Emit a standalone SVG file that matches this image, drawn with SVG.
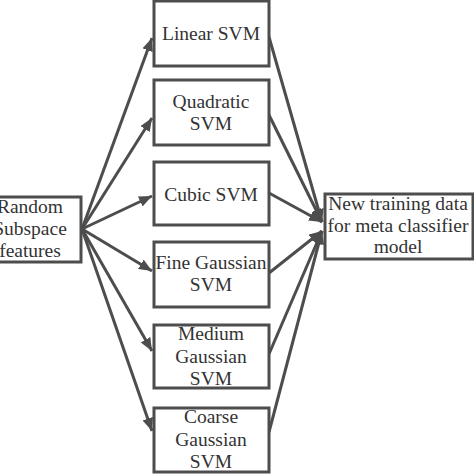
<svg xmlns="http://www.w3.org/2000/svg" width="474" height="474" viewBox="0 0 474 474">
<defs>
<marker id="ah" markerUnits="userSpaceOnUse" markerWidth="14" markerHeight="12" refX="13" refY="5.5" orient="auto">
<path d="M0,0 L13,5.5 L0,11 Z" fill="#4d4d4d"/>
</marker>
</defs>
<style>
.box{fill:#fff;stroke:#4d4d4d;stroke-width:3}
.t{font-family:"Liberation Serif","Times New Roman",serif;font-size:19.5px;fill:#333;text-anchor:middle}
.c{fill:none;stroke:#4d4d4d;stroke-width:3;marker-end:url(#ah)}
</style>
<rect width="474" height="474" fill="#fff"/>
<g id="connectors">
<path class="c" d="M82,229 L152,38"/>
<path class="c" d="M82,229 L152,118"/>
<path class="c" d="M82,229 L152,196"/>
<path class="c" d="M82,229 L152,271"/>
<path class="c" d="M82,229 L152,351"/>
<path class="c" d="M82,229 L152,431"/>
<path class="c" d="M269,37 L322,222"/>
<path class="c" d="M269,115 L322,222"/>
<path class="c" d="M269,193 L322,222"/>
<path class="c" d="M269,273 L322,231"/>
<path class="c" d="M269,354 L322,231"/>
<path class="c" d="M269,432 L322,231"/>
</g>
<g id="random">
<rect class="box" x="-30" y="197" width="111" height="65"/>
<text class="t" x="30" y="213">Random</text>
<text class="t" x="30" y="235">Subspace</text>
<text class="t" x="30" y="257">features</text>
</g>
<g id="linear">
<rect class="box" x="154" y="1" width="115" height="65"/>
<text class="t" x="211" y="40">Linear SVM</text>
</g>
<g id="quadratic">
<rect class="box" x="154" y="80" width="115" height="65"/>
<text class="t" x="211" y="108">Quadratic</text>
<text class="t" x="211" y="130">SVM</text>
</g>
<g id="cubic">
<rect class="box" x="154" y="162" width="115" height="63"/>
<text class="t" x="211" y="201">Cubic SVM</text>
</g>
<g id="fine">
<rect class="box" x="154" y="242" width="115" height="65"/>
<text class="t" x="211" y="269">Fine Gaussian</text>
<text class="t" x="211" y="291">SVM</text>
</g>
<g id="medium">
<rect class="box" x="154" y="325" width="115" height="63"/>
<text class="t" x="211" y="340">Medium</text>
<text class="t" x="211" y="363">Gaussian</text>
<text class="t" x="211" y="385">SVM</text>
</g>
<g id="coarse">
<rect class="box" x="154" y="408" width="115" height="64"/>
<text class="t" x="211" y="423">Coarse</text>
<text class="t" x="211" y="446">Gaussian</text>
<text class="t" x="211" y="468">SVM</text>
</g>
<g id="newdata">
<rect class="box" x="325" y="194" width="148" height="65"/>
<text class="t" x="398" y="210">New training data</text>
<text class="t" x="398" y="232">for meta classifier</text>
<text class="t" x="398" y="253">model</text>
</g>
</svg>
